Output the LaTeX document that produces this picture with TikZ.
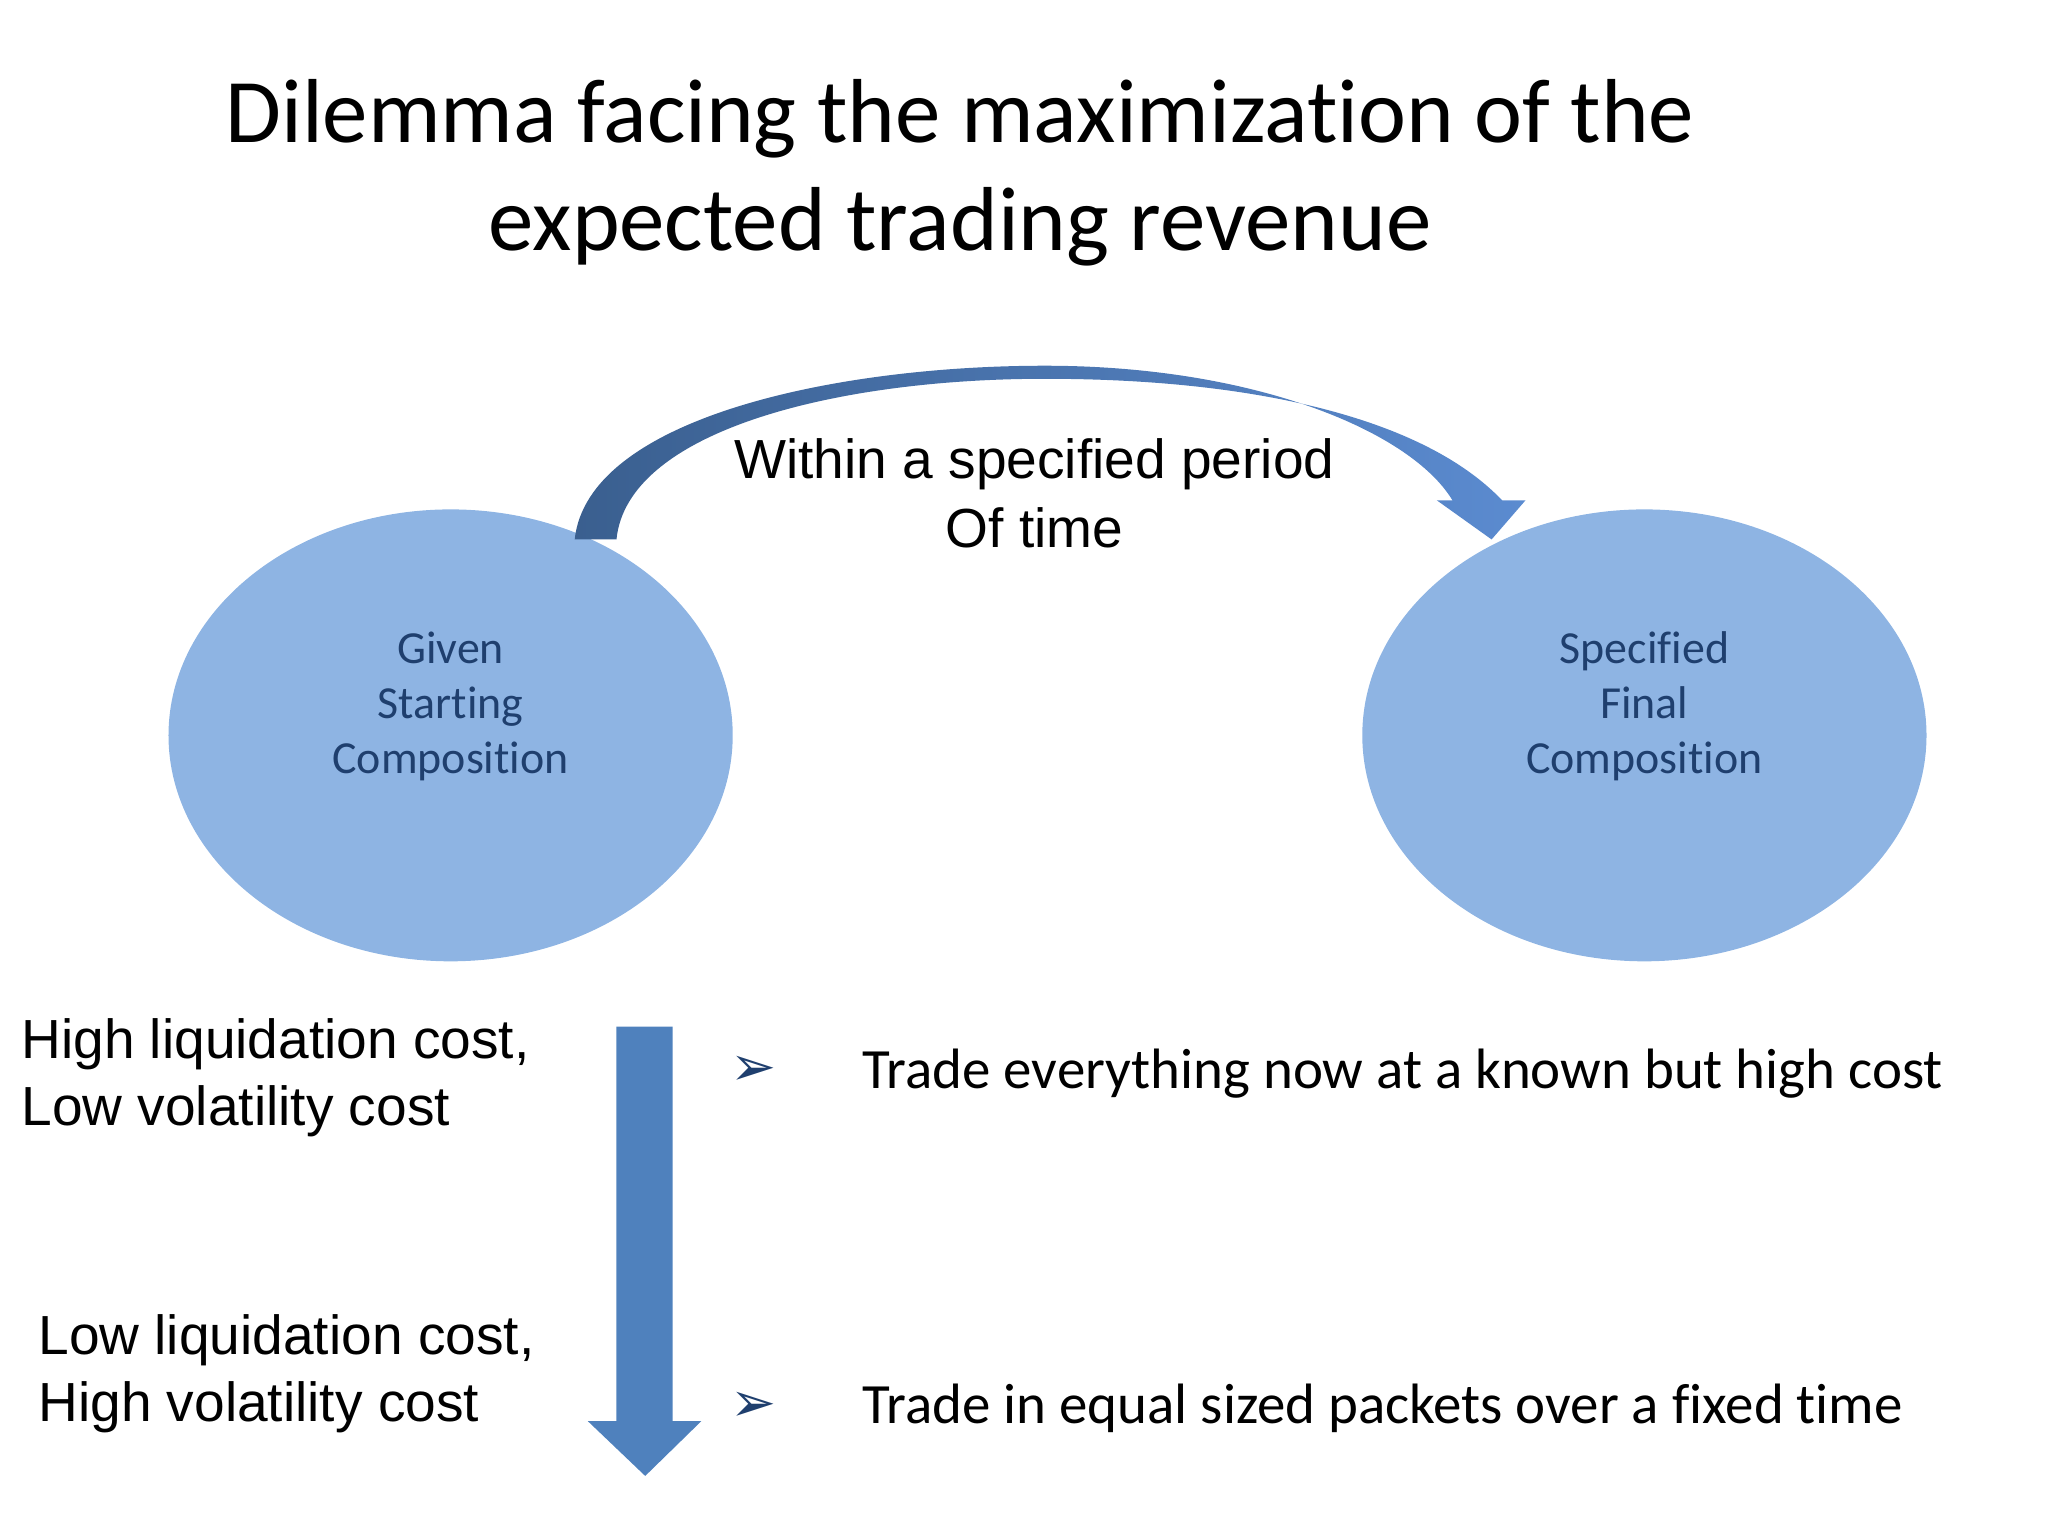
\documentclass[tikz,border=0pt]{standalone}
\usepackage{fontspec}
\setmainfont{Carlito}[Ligatures={NoCommon}]
\newfontfamily\arialf{Liberation Sans}
\newfontfamily\dejaf{DejaVu Sans}
\definecolor{ellfill}{HTML}{8EB4E3}
\definecolor{ardark}{HTML}{3A5F8F}
\definecolor{arlight}{HTML}{5B8BD0}
\definecolor{arblue}{HTML}{4F81BD}
\definecolor{etext}{HTML}{1F3F6E}
\tikzset{
  ell/.style={ellipse, fill=ellfill, minimum width=4.32cm, minimum height=3.46cm, align=center, font=\fontsize{10}{12}\selectfont, text=etext},
  lab/.style={anchor=west, align=left, font=\arialf\fontsize{12}{14.6}\selectfont},
  bul/.style={anchor=center, font=\dejaf\fontsize{12}{14}\selectfont, text=etext},
  btxt/.style={anchor=west, font=\fontsize{12.4}{14}\selectfont}
}
\usetikzlibrary{shapes.geometric}
\begin{document}
\begin{tikzpicture}[x=0.1mm,y=-0.1mm]
\useasboundingbox (0,0) rectangle (1568,1176);
\node[font=\fontsize{19.8}{23.5}\selectfont, align=center] (title) at (735,132) {Dilemma facing the maximization of the\\expected trading revenue};
\node[ell] (e1) at (345,563) {};
\node[align=center, font=\fontsize{10}{12}\selectfont, text=etext] (e1t) at (345,541) {Given\\Starting\\Composition};
\node[ell] (e2) at (1259,563) {};
\node[align=center, font=\fontsize{10}{12}\selectfont, text=etext] (e2t) at (1259,541) {Specified\\Final\\Composition};
\shade[left color=ardark, right color=arlight]
  (440,413) .. controls (450,320) and (640,280) .. (800,280)
  .. controls (960,280) and (1080,330) .. (1112,383)
  -- (1100,383) -- (1142,413) -- (1168,383) -- (1150,383)
  .. controls (1090,320) and (960,290) .. (800,290)
  .. controls (640,290) and (480,330) .. (472,413) -- cycle;
\node[font=\arialf\fontsize{12}{15}\selectfont, align=center] (per) at (792,378) {Within a specified period\\Of time};
\fill[arblue] (472,786) -- (515,786) -- (515,1088) -- (537,1088) -- (494,1130) -- (450,1088) -- (472,1088) -- cycle;
\node[lab] (l1) at (4,825) {High liquidation cost,\\Low volatility cost};
\node[lab] (l2) at (17,1052) {Low liquidation cost,\\High volatility cost};
\node[bul] (b1) at (577,820) {➢};
\node[bul] (b2) at (577,1077) {➢};
\node[btxt] (t1) at (648,822) {Trade everything now at a known but high cost};
\node[btxt] (t2) at (648,1078) {Trade in equal sized packets over a fixed time};
\end{tikzpicture}
\end{document}
